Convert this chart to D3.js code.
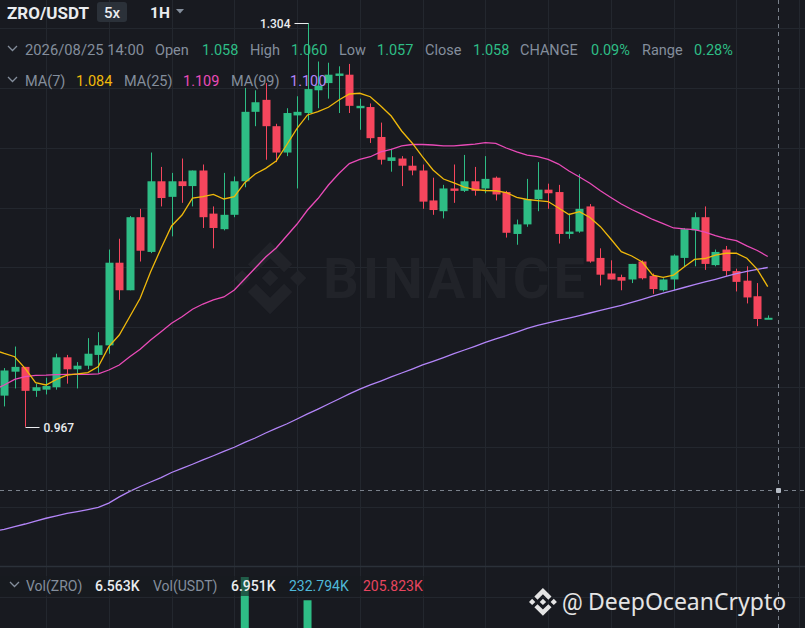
<!DOCTYPE html>
<html><head><meta charset="utf-8">
<script src="https://cdn.jsdelivr.net/npm/d3@7"></script>
<style>html,body{margin:0;padding:0;background:#181a20;overflow:hidden}</style>
</head><body><svg id="c" width="805" height="628"></svg>
<script>
// ---- data (1H candles, ZRO/USDT) ----
const opens  = [0.993,1.013,1.017,0.997,0.998,1.000,1.025,1.015,1.018,1.027,
                1.035,1.104,1.081,1.142,1.113,1.172,1.159,1.172,1.168,1.181,
                1.145,1.132,1.144,1.172,1.230,1.240,1.218,1.196,1.227,1.229,
                1.248,1.254,1.260,1.261,1.233,1.234,1.209,1.189,1.191,1.185,
                1.181,1.156,1.147,1.166,1.164,1.172,1.166,1.175,1.163,1.128,
                1.136,1.157,1.165,1.163,1.128,1.130,1.151,1.108,1.095,1.092,
                1.090,1.105,1.093,1.081,1.090,1.108,1.131,1.142,1.102,1.115,
                1.097,1.089,1.076,1.058];
const highs  = [1.016,1.034,1.017,1.003,1.008,1.028,1.027,1.021,1.041,1.046,
                1.115,1.124,1.143,1.149,1.196,1.184,1.179,1.191,1.181,1.186,
                1.151,1.179,1.176,1.250,1.248,1.254,1.220,1.233,1.243,1.304,
                1.272,1.271,1.268,1.270,1.241,1.237,1.221,1.199,1.193,1.193,
                1.186,1.175,1.169,1.186,1.194,1.184,1.193,1.176,1.164,1.140,
                1.174,1.188,1.170,1.169,1.145,1.178,1.153,1.116,1.106,1.094,
                1.103,1.106,1.095,1.091,1.111,1.133,1.146,1.151,1.115,1.118,
                1.099,1.101,1.087,1.060];
const lows   = [0.984,0.999,0.967,0.992,0.994,0.998,1.003,0.999,1.015,1.012,
                1.028,1.073,1.081,1.105,1.112,1.151,1.126,1.154,1.151,1.133,
                1.116,1.131,1.142,1.167,1.218,1.190,1.188,1.193,1.166,1.223,
                1.233,1.241,1.229,1.229,1.215,1.204,1.186,1.180,1.168,1.177,
                1.149,1.144,1.141,1.154,1.163,1.160,1.162,1.156,1.125,1.119,
                1.134,1.147,1.149,1.120,1.124,1.129,1.104,1.085,1.090,1.081,
                1.087,1.090,1.078,1.080,1.081,1.101,1.101,1.098,1.101,1.093,
                1.080,1.070,1.051,1.057];
const closes = [1.014,1.017,0.997,1.000,1.001,1.025,1.015,1.018,1.028,1.035,
                1.104,1.081,1.142,1.114,1.172,1.158,1.172,1.168,1.181,1.142,
                1.133,1.144,1.172,1.230,1.238,1.218,1.196,1.229,1.230,1.249,
                1.252,1.261,1.262,1.235,1.235,1.208,1.190,1.192,1.185,1.181,
                1.155,1.148,1.166,1.164,1.172,1.164,1.174,1.161,1.129,1.136,
                1.157,1.165,1.162,1.128,1.130,1.149,1.105,1.094,1.090,1.089,
                1.103,1.091,1.082,1.090,1.110,1.132,1.142,1.103,1.113,1.097,
                1.088,1.075,1.057,1.058];
// volume in thousands of ZRO
const volumes = [210,180,320,120,90,260,150,110,190,230,
                 980,620,760,540,1000,420,480,310,280,560,
                 380,450,520,1850,560,820,600,640,700,1500,
                 520,430,360,650,290,470,510,240,260,200,
                 480,300,330,220,310,280,300,260,520,240,
                 410,380,210,520,190,440,720,420,180,150,
                 230,240,260,170,380,520,600,740,330,380,
                 300,420,560,6.563];
// moving averages start one candle before the first visible candle (index -1)
const maStartIdx = -1;
const ma7  = [1.0312,
              1.0282,1.0255,1.0158,1.0038,1.0019,1.0066,1.0102,1.0111,1.0122,1.0172,
              1.0339,1.0436,1.0589,1.0743,1.0965,1.1160,1.1347,1.1438,1.1580,1.1591,
              1.1611,1.1572,1.1591,1.1708,1.1781,1.1828,1.1889,1.2023,1.2162,1.2274,
              1.2301,1.2338,1.2399,1.2449,1.2455,1.2426,1.2349,1.2265,1.2140,1.2040,
              1.1923,1.1814,1.1739,1.1706,1.1672,1.1651,1.1643,1.1641,1.1626,1.1585,
              1.1568,1.1559,1.1551,1.1497,1.1443,1.1466,1.1418,1.1341,1.1238,1.1132,
              1.1096,1.1046,1.0937,1.0918,1.0937,1.1004,1.1067,1.1075,1.1104,1.1119,
              1.1119,1.1077,1.0985,1.0840];
const ma25 = [0.9977,
              1.0019,1.0066,1.0088,1.0100,1.0102,1.0106,1.0108,1.0108,1.0108,1.0111,
              1.0144,1.0186,1.0255,1.0317,1.0395,1.0464,1.0534,1.0589,1.0651,1.0695,
              1.0729,1.0754,1.0812,1.0904,1.0996,1.1088,1.1163,1.1263,1.1363,1.1480,
              1.1576,1.1689,1.1785,1.1868,1.1902,1.1925,1.1965,1.1987,1.2015,1.2027,
              1.2027,1.2023,1.2015,1.2015,1.2023,1.2031,1.2042,1.2037,1.1998,1.1965,
              1.1939,1.1925,1.1902,1.1864,1.1806,1.1756,1.1703,1.1641,1.1585,1.1530,
              1.1484,1.1443,1.1401,1.1367,1.1330,1.1322,1.1316,1.1296,1.1267,1.1242,
              1.1225,1.1180,1.1142,1.1092];
const ma99 = [0.8795,
              0.8814,0.8837,0.8858,0.8883,0.8906,0.8925,0.8946,0.8962,0.8979,0.8997,
              0.9033,0.9084,0.9131,0.9171,0.9209,0.9246,0.9288,0.9322,0.9357,0.9393,
              0.9428,0.9464,0.9499,0.9539,0.9576,0.9618,0.9656,0.9693,0.9735,0.9777,
              0.9818,0.9860,0.9902,0.9944,0.9985,1.0019,1.0052,1.0086,1.0119,1.0152,
              1.0186,1.0217,1.0248,1.0280,1.0311,1.0342,1.0374,1.0403,1.0432,1.0461,
              1.0491,1.0516,1.0537,1.0559,1.0578,1.0599,1.0620,1.0641,1.0662,1.0684,
              1.0709,1.0734,1.0760,1.0785,1.0810,1.0833,1.0856,1.0879,1.0901,1.0925,
              1.0948,1.0968,1.0985,1.1000];
const priceTicks = [0.90,0.95,1.00,1.05,1.10,1.15,1.20,1.25,1.30];
const timeTickIdx = [4,10,16,22,28,34,40,46,52,58,64,70,76];
const crossIdx = 74, crossPrice = 0.9145;
const highLabel = {idx:29, price:1.304, text:"1.304"};
const lowLabel  = {idx:2,  price:0.967, text:"0.967"};

// ---- styles ----
const C = {bg:"#181a20", grid:"#23272e", sep:"#2b3139", up:"#2ebd85", down:"#f6465d",
           gray:"#848e9c", white:"#eaecef", ma7:"#f0b90b", ma25:"#e94bb8", ma99:"#b385f8",
           wm:"#212329"};
const FONT = "Roboto, 'Noto Sans', Arial, sans-serif";
const W = 805, H = 628;

const svg = d3.select("#c");
svg.append("rect").attr("width",W).attr("height",H).attr("fill",C.bg);

const x = d3.scaleLinear().domain([0,74]).range([4.2,778.2]);
const y = d3.scaleLinear().domain([0.90,1.30]).range([507,28]);
const yv = d3.scaleLinear().domain([0,1850]).range([700,577]);

// grid
const g = svg.append("g");
g.selectAll(".hg").data(priceTicks).join("line")
  .attr("x1",0).attr("x2",W).attr("y1",d=>Math.round(y(d))+0.5).attr("y2",d=>Math.round(y(d))+0.5)
  .attr("stroke",C.grid).attr("stroke-width",1);
g.selectAll(".vg").data(timeTickIdx).join("line")
  .attr("x1",d=>Math.round(x(d))+0.5).attr("x2",d=>Math.round(x(d))+0.5).attr("y1",0).attr("y2",H)
  .attr("stroke",C.grid).attr("stroke-width",1);
// volume pane separator + grid
g.append("line").attr("x1",0).attr("x2",W).attr("y1",566.5).attr("y2",566.5).attr("stroke",C.sep).attr("stroke-width",1.5);
g.append("line").attr("x1",0).attr("x2",W).attr("y1",597.5).attr("y2",597.5).attr("stroke",C.grid);

// watermark
const logoPath = "M38.73,53.2 L63.32,28.62 L87.93,53.22 L102.24,38.91 L63.32,0 L24.42,38.9 Z M0,63.31 L14.3,49 L28.61,63.31 L14.3,77.61 Z M38.73,73.41 L63.32,98 L87.92,73.4 L102.23,87.69 L63.32,126.6 L24.41,87.72 Z M98.28,63.31 L112.58,49 L126.89,63.31 L112.58,77.61 Z M77.83,63.3 L63.32,48.78 L48.81,63.3 L63.32,77.81 Z";
svg.append("path").attr("d",logoPath).attr("fill",C.wm).attr("transform","translate(234,242) scale(0.57)");
svg.append("text").attr("x",323).attr("y",298).attr("font-family",FONT).attr("font-weight",700)
  .attr("font-size",56).attr("fill",C.wm).attr("textLength",262).attr("lengthAdjust","spacing").text("BINANCE");

// volume bars
const idx = d3.range(opens.length);
const col = i => closes[i] >= opens[i] ? C.up : C.down;
svg.append("g").selectAll("rect").data(idx).join("rect")
  .attr("x",i=>x(i)-4).attr("width",8)
  .attr("y",i=>yv(volumes[i])).attr("height",i=>yv(0)-yv(volumes[i]))
  .attr("fill",col);

// candles
const cg = svg.append("g");
cg.selectAll("line").data(idx).join("line")
  .attr("x1",i=>Math.round(x(i))+0.5).attr("x2",i=>Math.round(x(i))+0.5)
  .attr("y1",i=>y(highs[i])).attr("y2",i=>y(lows[i]))
  .attr("stroke",col).attr("stroke-width",1);
cg.selectAll("rect").data(idx).join("rect")
  .attr("x",i=>Math.round(x(i))-3.5).attr("width",8)
  .attr("y",i=>y(Math.max(opens[i],closes[i])))
  .attr("height",i=>Math.max(2,Math.abs(y(opens[i])-y(closes[i]))))
  .attr("fill",col);

// MA lines
const line = d3.line().x((d,i)=>x(i+maStartIdx)).y(d=>y(d));
[[ma99,C.ma99],[ma25,C.ma25],[ma7,C.ma7]].forEach(([arr,c])=>{
  svg.append("path").attr("d",line(arr)).attr("fill","none").attr("stroke",c).attr("stroke-width",1.3);
});

// high / low labels
function hlLabel(o, left){
  const xx = Math.round(x(o.idx))+0.5, yy = Math.round(y(o.price))+0.5;
  if(left){
    svg.append("line").attr("x1",xx-14).attr("x2",xx).attr("y1",yy).attr("y2",yy).attr("stroke",C.white);
    svg.append("text").attr("x",xx-18).attr("y",yy+4).attr("text-anchor","end")
      .attr("font-family",FONT).attr("font-size",12).attr("font-weight",500).attr("fill",C.white).text(o.text);
  } else {
    svg.append("line").attr("x1",xx).attr("x2",xx+14).attr("y1",yy).attr("y2",yy).attr("stroke",C.white);
    svg.append("text").attr("x",xx+18).attr("y",yy+4).attr("text-anchor","start")
      .attr("font-family",FONT).attr("font-size",12).attr("font-weight",500).attr("fill",C.white).text(o.text);
  }
}
hlLabel(highLabel,true);
hlLabel(lowLabel,false);

// crosshair
const cx = Math.round(x(crossIdx))+0.5, cy = Math.round(y(crossPrice))+0.5;
svg.append("line").attr("x1",cx).attr("x2",cx).attr("y1",0).attr("y2",H)
  .attr("stroke","#7b828c").attr("stroke-dasharray","4,4");
svg.append("line").attr("x1",0).attr("x2",W).attr("y1",cy).attr("y2",cy)
  .attr("stroke","#7b828c").attr("stroke-dasharray","4,4");
svg.append("rect").attr("x",cx-2.5).attr("y",cy-2.5).attr("width",5).attr("height",5).attr("rx",1).attr("fill","#b7bdc6");

// header
function txt(xp, yp, s, fill, size, weight){
  return svg.append("text").attr("x",xp).attr("y",yp).attr("font-family",FONT)
    .attr("font-size",size||14.5).attr("font-weight",weight||400).attr("fill",fill).text(s);
}
function chevron(xp, yp){
  svg.append("path").attr("d",`M${xp},${yp} L${xp+4.5},${yp+4.5} L${xp+9},${yp}`)
    .attr("fill","none").attr("stroke",C.gray).attr("stroke-width",1.3);
}
txt(7,19,"ZRO/USDT",C.white,17,700);
svg.append("rect").attr("x",97).attr("y",2).attr("width",30).attr("height",20).attr("rx",3).attr("fill","#2b3139");
txt(112,18,"5x",C.white,15,500).attr("text-anchor","middle");
txt(150,18,"1H",C.white,15.5,700);
svg.append("path").attr("d","M176,9 L184,9 L180,13.5 Z").attr("fill",C.gray);

chevron(8,46);
txt(25,55,"2026/08/25 14:00",C.gray).attr("textLength",119).attr("lengthAdjust","spacingAndGlyphs");
txt(155,55,"Open",C.gray); txt(202,55,"1.058",C.up);
txt(250,55,"High",C.gray); txt(291,55,"1.060",C.up);
txt(339,55,"Low",C.gray); txt(377,55,"1.057",C.up);
txt(425,55,"Close",C.gray); txt(473,55,"1.058",C.up);
txt(520,55,"CHANGE",C.gray); txt(591,55,"0.09%",C.up);
txt(642,55,"Range",C.gray); txt(694,55,"0.28%",C.up);

chevron(8,77);
txt(25,86,"MA(7)",C.gray); txt(76,86,"1.084",C.ma7);
txt(124,86,"MA(25)",C.gray); txt(183,86,"1.109",C.ma25);
txt(231,86,"MA(99)",C.gray); txt(290,86,"1.100",C.ma99);

// volume legend
svg.append("rect").attr("x",0).attr("y",576).attr("width",430).attr("height",20).attr("fill",C.bg).attr("opacity",0.6);
chevron(10,582);
txt(26,591,"Vol(ZRO)",C.gray,14); txt(95,591,"6.563K",C.white,14,500);
txt(153,591,"Vol(USDT)",C.gray,14); txt(231,591,"6.951K",C.white,14,500);
txt(289,591,"232.794K","#4fb8d8",14); txt(363,591,"205.823K","#e8455f",14);

// bottom watermark
svg.append("path").attr("d",logoPath).attr("fill","#e4e4e4").attr("transform","translate(529,588) scale(0.22)");
txt(562,610,"@",  "#e4e4e4",23);
txt(588,610,"DeepOceanCrypto","#e4e4e4",23).attr("font-family","'Noto Sans', 'Open Sans', sans-serif");
</script></body></html>
